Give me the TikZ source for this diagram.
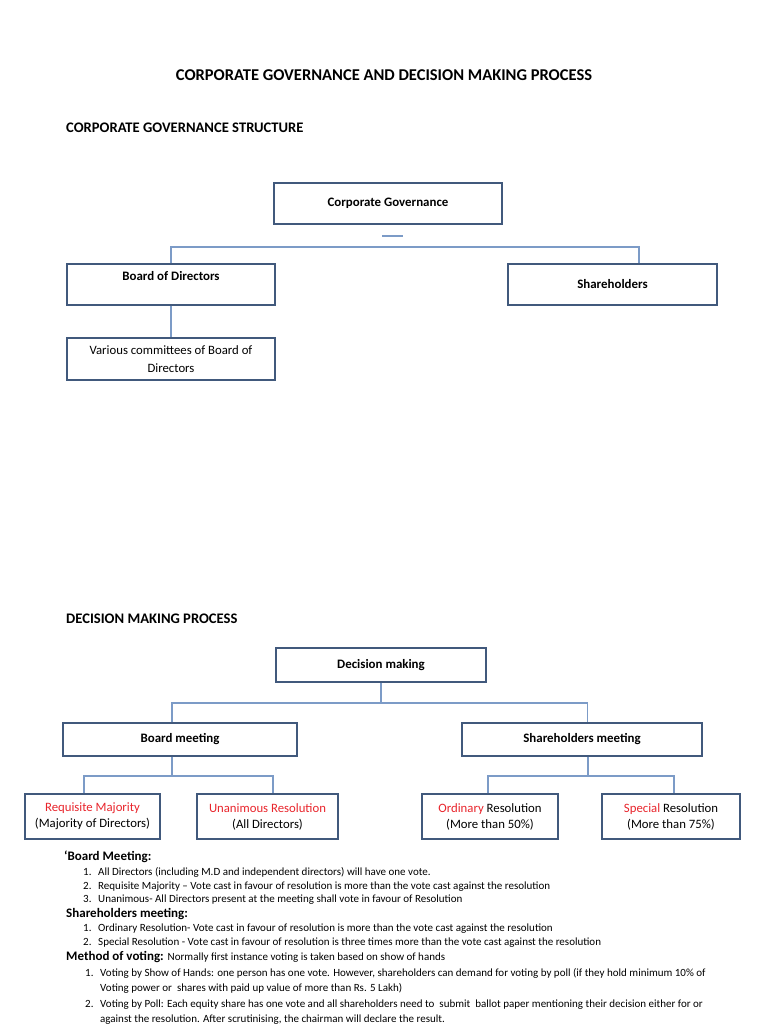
\documentclass[tikz,border=0pt]{standalone}
\usepackage{fontspec}
\setmainfont{Carlito}
\usetikzlibrary{positioning}
\definecolor{boxline}{HTML}{41597C}
\definecolor{linkblue}{HTML}{7C9BC7}
\definecolor{resred}{HTML}{E8242B}

\begin{document}
\begin{tikzpicture}[x=1pt, y=-1pt,
orgbox/.style={draw=boxline, line width=1.4pt, inner sep=0pt, align=center, font=\fontsize{12.9}{18}\selectfont\bfseries},
resbox/.style={draw=boxline, line width=1.4pt, inner sep=0pt, align=center, minimum height=45pt, font=\fontsize{12.75}{16}\selectfont},
link/.style={draw=linkblue, line width=1.1pt},
heading/.style={anchor=base west, inner sep=0pt, font=\fontsize{14.6}{17}\selectfont\bfseries},
subhead/.style={anchor=base west, inner sep=0pt, font=\fontsize{13}{15}\selectfont\bfseries},
item/.style={anchor=base west, inner sep=0pt, font=\fontsize{11}{13}\selectfont}
]
\useasboundingbox (0,0) rectangle (768,1024);

% titles
\node[inner sep=0pt, font=\fontsize{16.5}{19}\selectfont\bfseries] (title) at (384,75) {CORPORATE GOVERNANCE AND DECISION MAKING PROCESS};
\node[heading] (cgstruct) at (66,133) {CORPORATE GOVERNANCE STRUCTURE};
\node[heading] (dmproc) at (66,623) {DECISION MAKING PROCESS};

% governance structure
\node[orgbox, minimum width=228pt, minimum height=41pt] (cg) at (388,203.5) {Corporate Governance};
\node[orgbox, minimum width=208pt, minimum height=41pt] (bod) at (171,284.5) {Board of Directors\\\mbox{}};
\node[orgbox, minimum width=209pt, minimum height=41pt] (sh) at (612.5,284.5) {Shareholders};
\node[orgbox, minimum width=208pt, minimum height=42pt, font=\fontsize{12.75}{18}\selectfont] (various) at (171,359) {Various committees of Board of\\Directors};

\coordinate (cgdashl) at (382,236);
\coordinate (cgdashr) at (403,236);
\coordinate (cgbus) at (388,247);
\draw[link] (cgdashl) -- (cgdashr);
\draw[link] (bod.north) |- (cgbus) -| ([xshift=26.5pt]sh.north);
\draw[link] (bod.south) -- (various.north);

% decision making
\node[orgbox, minimum width=210pt, minimum height=34pt] (dm) at (381,665) {Decision making};
\node[orgbox, minimum width=234pt, minimum height=33pt] (bm) at (180,739.5) {Board meeting};
\node[orgbox, minimum width=240pt, minimum height=33pt] (smt) at (582,739.5) {Shareholders meeting};

\node[resbox, minimum width=135pt] (rm) at (92.5,816.5) {\textcolor{resred}{Requisite Majority}\\(Majority of Directors)};
\node[resbox, minimum width=141pt] (ur) at (267.5,816.5) {\textcolor{resred}{Unanimous Resolution}\\(All Directors)};
\node[resbox, minimum width=136pt] (ord) at (490,816.5) {\textcolor{resred}{Ordinary} Resolution\\(More than 50\%)};
\node[resbox, minimum width=138pt] (spec) at (671,816.5) {\textcolor{resred}{Special} Resolution\\(More than 75\%)};

\coordinate (dmbus) at (381,703);
\coordinate (bmbus) at (172,776);
\coordinate (smbus) at (588,776);
\draw[link] (dm.south) -- (dmbus);
\draw[link] ([xshift=-8pt]bm.north) |- (dmbus) -| ([xshift=5.5pt]smt.north);
\draw[link] ([xshift=-8pt]bm.south) -- (bmbus);
\draw[link] ([xshift=-8.5pt]rm.north) |- (bmbus) -| ([xshift=5.5pt]ur.north);
\draw[link] ([xshift=6pt]smt.south) -- (smbus);
\draw[link] ([xshift=-2pt]ord.north) |- (smbus) -| ([xshift=3pt]spec.north);

% notes
\node[subhead] (bmhead) at (64,860) {`Board Meeting:};
\node[item] (bm1n) at (83,875.5) {1.};
\node[item] (bm1) at (98,875.5) {All Directors (including M.D and independent directors) will have one vote.};
\node[item] (bm2n) at (83,889) {2.};
\node[item] (bm2) at (98,889) {Requisite Majority -- Vote cast in favour of resolution is more than the vote cast against the resolution};
\node[item] (bm3n) at (83,902.5) {3.};
\node[item] (bm3) at (98,902.5) {Unanimous- All Directors present at the meeting shall vote in favour of Resolution};

\node[subhead] (shhead) at (66,917) {Shareholders meeting:};
\node[item] (sh1n) at (83,931.5) {1.};
\node[item] (sh1) at (98,931.5) {Ordinary Resolution- Vote cast in favour of resolution is more than the vote cast against the resolution};
\node[item] (sh2n) at (83,945) {2.};
\node[item] (sh2) at (98,945) {Special Resolution - Vote cast in favour of resolution is three times more than the vote cast against the resolution};

\node[subhead] (mvhead) at (66,960) {Method of voting: {\fontsize{11}{13}\selectfont\mdseries Normally first instance voting is taken based on show of hands}};
\node[item] (mv1n) at (85,976) {1.};
\node[item] (mv1) at (100,976) {Voting by Show of Hands: one person has one vote. However, shareholders can demand for voting by poll (if they hold minimum 10\% of};
\node[item] (mv1b) at (100,991.5) {Voting power or \ shares with paid up value of more than Rs. 5 Lakh)};
\node[item] (mv2n) at (85,1007) {2.};
\node[item] (mv2) at (100,1007) {Voting by Poll: Each equity share has one vote and all shareholders need to \ submit \ ballot paper mentioning their decision either for or};
\node[item] (mv2b) at (100,1022.5) {against the resolution. After scrutinising, the chairman will declare the result.};
\end{tikzpicture}
\end{document}
